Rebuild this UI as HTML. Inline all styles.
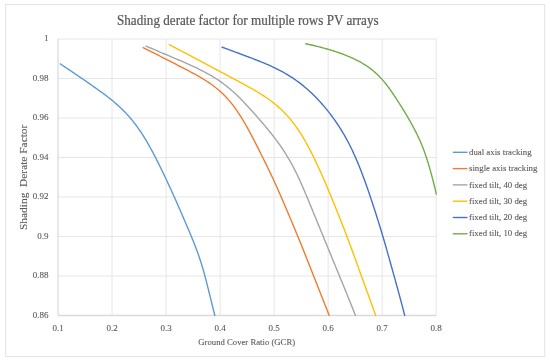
<!DOCTYPE html>
<html><head><meta charset="utf-8"><style>
html,body{margin:0;padding:0;background:#fff;}
svg{display:block;}
text{font-family:"Liberation Serif",serif;fill:#595959;stroke:#595959;stroke-width:0.1px;}
</style></head><body>
<svg width="550" height="362" viewBox="0 0 550 362">
<rect x="0" y="0" width="550" height="362" fill="#fff"/>
<rect x="5.7" y="4.5" width="539" height="352" fill="#fff" stroke="#e3e3e3" stroke-width="1"/>
<g stroke="#e6e6e6" stroke-width="1"><line x1="112.03" y1="39.0" x2="112.03" y2="315.43"/><line x1="166.06" y1="39.0" x2="166.06" y2="315.43"/><line x1="220.09" y1="39.0" x2="220.09" y2="315.43"/><line x1="274.12" y1="39.0" x2="274.12" y2="315.43"/><line x1="328.15" y1="39.0" x2="328.15" y2="315.43"/><line x1="382.18" y1="39.0" x2="382.18" y2="315.43"/><line x1="436.21" y1="39.0" x2="436.21" y2="315.43"/><line x1="58.0" y1="39.00" x2="436.21" y2="39.00"/><line x1="58.0" y1="78.49" x2="436.21" y2="78.49"/><line x1="58.0" y1="117.98" x2="436.21" y2="117.98"/><line x1="58.0" y1="157.47" x2="436.21" y2="157.47"/><line x1="58.0" y1="196.96" x2="436.21" y2="196.96"/><line x1="58.0" y1="236.45" x2="436.21" y2="236.45"/><line x1="58.0" y1="275.94" x2="436.21" y2="275.94"/></g>
<line x1="58.0" y1="39.0" x2="58.0" y2="315.43" stroke="#d2d2d2" stroke-width="1"/>
<line x1="58.0" y1="315.5" x2="436.21" y2="315.5" stroke="#dadada" stroke-width="1.3"/>
<g font-size="9"><text x="48.6" y="41.10" text-anchor="end">1</text><text x="48.6" y="80.59" text-anchor="end">0.98</text><text x="48.6" y="120.08" text-anchor="end">0.96</text><text x="48.6" y="159.57" text-anchor="end">0.94</text><text x="48.6" y="199.06" text-anchor="end">0.92</text><text x="48.6" y="238.55" text-anchor="end">0.9</text><text x="48.6" y="278.04" text-anchor="end">0.88</text><text x="48.6" y="317.53" text-anchor="end">0.86</text><text x="58.00" y="331" text-anchor="middle">0.1</text><text x="112.03" y="331" text-anchor="middle">0.2</text><text x="166.06" y="331" text-anchor="middle">0.3</text><text x="220.09" y="331" text-anchor="middle">0.4</text><text x="274.12" y="331" text-anchor="middle">0.5</text><text x="328.15" y="331" text-anchor="middle">0.6</text><text x="382.18" y="331" text-anchor="middle">0.7</text><text x="436.21" y="331" text-anchor="middle">0.8</text></g>
<g fill="none" stroke-width="1.4" stroke-linecap="round" stroke-linejoin="round"><path d="M60.30,63.90 L61.53,64.71 L62.75,65.53 L63.98,66.34 L65.20,67.16 L66.42,67.98 L67.64,68.80 L68.86,69.62 L70.08,70.44 L71.30,71.26 L72.52,72.09 L73.73,72.91 L74.95,73.74 L76.16,74.56 L77.37,75.39 L78.59,76.22 L79.80,77.05 L81.01,77.87 L82.22,78.71 L83.43,79.54 L84.64,80.37 L85.84,81.20 L87.05,82.03 L88.26,82.87 L89.46,83.70 L90.66,84.54 L91.87,85.38 L93.07,86.22 L94.26,87.06 L95.46,87.91 L96.65,88.75 L97.84,89.60 L99.03,90.46 L100.22,91.31 L101.39,92.17 L102.57,93.04 L103.74,93.90 L104.91,94.78 L106.07,95.66 L107.23,96.54 L108.38,97.43 L109.52,98.33 L110.65,99.24 L111.79,100.14 L112.90,101.07 L114.01,101.99 L115.13,102.92 L116.22,103.87 L117.30,104.83 L118.38,105.79 L119.45,106.76 L120.50,107.75 L121.55,108.74 L122.59,109.74 L123.61,110.76 L124.62,111.79 L125.63,112.82 L126.61,113.88 L127.58,114.95 L128.56,116.02 L129.51,117.10 L130.45,118.20 L131.38,119.31 L132.31,120.42 L133.21,121.56 L134.11,122.71 L135.00,123.85 L135.87,125.02 L136.74,126.20 L137.60,127.38 L138.45,128.57 L139.28,129.78 L140.11,130.99 L140.94,132.20 L141.74,133.44 L142.54,134.68 L143.34,135.92 L144.12,137.17 L144.90,138.44 L145.67,139.70 L146.44,140.98 L147.19,142.27 L147.94,143.56 L148.69,144.85 L149.42,146.16 L150.15,147.47 L150.88,148.77 L151.60,150.10 L152.31,151.43 L153.03,152.75 L153.73,154.09 L154.43,155.43 L155.13,156.77 L155.82,158.12 L156.51,159.47 L157.19,160.83 L157.88,162.18 L158.55,163.55 L159.23,164.91 L159.90,166.28 L160.57,167.65 L161.24,169.02 L161.91,170.39 L162.57,171.77 L163.23,173.15 L163.89,174.53 L164.56,175.91 L165.21,177.29 L165.87,178.68 L166.52,180.06 L167.17,181.45 L167.82,182.84 L168.47,184.23 L169.12,185.62 L169.76,187.02 L170.41,188.42 L171.05,189.81 L171.69,191.22 L172.32,192.62 L172.96,194.02 L173.60,195.43 L174.23,196.84 L174.86,198.25 L175.49,199.66 L176.12,201.07 L176.74,202.48 L177.37,203.90 L177.99,205.32 L178.61,206.74 L179.23,208.15 L179.85,209.57 L180.47,211.00 L181.09,212.42 L181.70,213.84 L182.32,215.27 L182.94,216.69 L183.55,218.12 L184.16,219.54 L184.78,220.97 L185.39,222.40 L186.00,223.82 L186.61,225.25 L187.23,226.68 L187.84,228.11 L188.44,229.55 L189.05,230.98 L189.66,232.41 L190.26,233.85 L190.86,235.29 L191.46,236.73 L192.05,238.18 L192.64,239.63 L193.24,241.08 L193.82,242.53 L194.40,244.00 L194.97,245.46 L195.55,246.93 L196.10,248.41 L196.66,249.89 L197.21,251.38 L197.75,252.88 L198.28,254.39 L198.82,255.90 L199.34,257.42 L199.84,258.95 L200.35,260.48 L200.85,262.02 L201.33,263.58 L201.82,265.14 L202.30,266.70 L202.76,268.28 L203.21,269.86 L203.67,271.44 L204.12,273.04 L204.55,274.64 L204.99,276.25 L205.42,277.85 L205.84,279.47 L206.26,281.09 L206.68,282.71 L207.09,284.34 L207.50,285.97 L207.91,287.60 L208.32,289.24 L208.73,290.87 L209.13,292.51 L209.54,294.14 L209.94,295.78 L210.35,297.41 L210.75,299.05 L211.15,300.68 L211.56,302.32 L211.96,303.96 L212.37,305.59 L212.77,307.23 L213.18,308.86 L213.58,310.50 L213.98,312.14 L214.39,313.77 L214.79,315.41" stroke="#5B9BD5"/><path d="M143.09,47.51 L144.60,48.28 L146.11,49.05 L147.62,49.82 L149.13,50.59 L150.64,51.37 L152.15,52.14 L153.66,52.91 L155.17,53.68 L156.68,54.46 L158.19,55.23 L159.70,56.00 L161.20,56.77 L162.71,57.54 L164.22,58.32 L165.73,59.09 L167.24,59.86 L168.75,60.63 L170.26,61.41 L171.77,62.18 L173.28,62.95 L174.79,63.72 L176.30,64.49 L177.81,65.27 L179.31,66.04 L180.82,66.81 L182.33,67.59 L183.83,68.36 L185.33,69.14 L186.84,69.92 L188.34,70.71 L189.83,71.50 L191.32,72.29 L192.81,73.08 L194.28,73.89 L195.75,74.70 L197.22,75.51 L198.67,76.34 L200.11,77.18 L201.56,78.02 L202.99,78.87 L204.39,79.75 L205.79,80.63 L207.20,81.50 L208.56,82.43 L209.91,83.35 L211.26,84.28 L212.59,85.24 L213.88,86.22 L215.18,87.21 L216.47,88.20 L217.70,89.25 L218.94,90.30 L220.17,91.34 L221.35,92.45 L222.52,93.56 L223.69,94.67 L224.82,95.82 L225.93,96.99 L227.04,98.16 L228.13,99.36 L229.17,100.59 L230.22,101.83 L231.27,103.06 L232.26,104.35 L233.25,105.64 L234.24,106.93 L235.20,108.25 L236.15,109.59 L237.09,110.93 L238.02,112.28 L238.92,113.66 L239.82,115.04 L240.72,116.42 L241.58,117.84 L242.45,119.26 L243.31,120.67 L244.16,122.11 L244.99,123.56 L245.83,125.00 L246.65,126.46 L247.46,127.93 L248.28,129.40 L249.09,130.87 L249.88,132.36 L250.67,133.85 L251.47,135.33 L252.25,136.83 L253.03,138.33 L253.81,139.83 L254.59,141.34 L255.36,142.85 L256.13,144.36 L256.90,145.87 L257.66,147.39 L258.43,148.90 L259.19,150.42 L259.96,151.94 L260.72,153.46 L261.48,154.98 L262.24,156.51 L262.99,158.03 L263.75,159.55 L264.50,161.08 L265.26,162.61 L266.01,164.14 L266.76,165.67 L267.51,167.20 L268.25,168.74 L269.00,170.27 L269.74,171.81 L270.48,173.36 L271.22,174.90 L271.95,176.45 L272.68,178.00 L273.40,179.56 L274.13,181.12 L274.84,182.68 L275.56,184.25 L276.27,185.82 L276.98,187.39 L277.68,188.97 L278.38,190.55 L279.08,192.13 L279.77,193.72 L280.47,195.31 L281.16,196.90 L281.85,198.49 L282.53,200.09 L283.22,201.68 L283.91,203.28 L284.59,204.87 L285.27,206.47 L285.96,208.07 L286.64,209.67 L287.32,211.27 L288.00,212.87 L288.67,214.48 L289.35,216.08 L290.03,217.69 L290.71,219.29 L291.38,220.90 L292.06,222.50 L292.73,224.11 L293.40,225.72 L294.07,227.33 L294.74,228.94 L295.41,230.55 L296.08,232.17 L296.75,233.78 L297.42,235.40 L298.08,237.01 L298.74,238.63 L299.41,240.25 L300.07,241.87 L300.73,243.49 L301.39,245.11 L302.04,246.74 L302.70,248.37 L303.35,249.99 L304.00,251.62 L304.65,253.25 L305.31,254.88 L305.95,256.51 L306.60,258.15 L307.25,259.78 L307.90,261.42 L308.54,263.05 L309.19,264.69 L309.84,266.32 L310.48,267.96 L311.13,269.59 L311.77,271.23 L312.42,272.87 L313.06,274.50 L313.71,276.14 L314.35,277.78 L315.00,279.41 L315.64,281.05 L316.29,282.68 L316.93,284.32 L317.58,285.96 L318.22,287.59 L318.87,289.23 L319.51,290.86 L320.16,292.50 L320.80,294.14 L321.45,295.77 L322.10,297.41 L322.74,299.05 L323.39,300.68 L324.03,302.32 L324.68,303.95 L325.32,305.59 L325.97,307.23 L326.61,308.86 L327.26,310.50 L327.90,312.13 L328.55,313.77 L329.19,315.41" stroke="#ED7D31"/><path d="M146.10,46.10 L147.78,46.82 L149.47,47.54 L151.16,48.25 L152.85,48.97 L154.54,49.69 L156.23,50.40 L157.91,51.12 L159.60,51.84 L161.29,52.55 L162.98,53.27 L164.67,53.99 L166.36,54.71 L168.04,55.42 L169.73,56.14 L171.42,56.86 L173.10,57.58 L174.79,58.30 L176.47,59.02 L178.15,59.74 L179.84,60.47 L181.51,61.20 L183.18,61.93 L184.86,62.66 L186.52,63.40 L188.18,64.14 L189.84,64.89 L191.49,65.64 L193.14,66.40 L194.78,67.17 L196.41,67.94 L198.03,68.73 L199.64,69.52 L201.26,70.31 L202.85,71.13 L204.43,71.95 L206.01,72.77 L207.57,73.62 L209.10,74.49 L210.64,75.35 L212.17,76.23 L213.66,77.15 L215.14,78.07 L216.63,78.99 L218.07,79.95 L219.50,80.93 L220.93,81.90 L222.33,82.91 L223.70,83.94 L225.08,84.97 L226.44,86.01 L227.76,87.10 L229.08,88.18 L230.40,89.27 L231.67,90.40 L232.94,91.53 L234.22,92.67 L235.46,93.83 L236.69,95.00 L237.92,96.18 L239.14,97.36 L240.33,98.57 L241.53,99.78 L242.73,100.99 L243.90,102.23 L245.07,103.46 L246.24,104.70 L247.39,105.94 L248.54,107.20 L249.69,108.45 L250.84,109.71 L251.98,110.98 L253.11,112.25 L254.25,113.52 L255.37,114.80 L256.50,116.08 L257.63,117.36 L258.74,118.64 L259.86,119.93 L260.98,121.22 L262.09,122.52 L263.19,123.82 L264.29,125.12 L265.39,126.42 L266.48,127.74 L267.57,129.06 L268.66,130.37 L269.73,131.71 L270.80,133.04 L271.87,134.38 L272.93,135.72 L273.97,137.08 L275.02,138.44 L276.06,139.81 L277.08,141.20 L278.09,142.58 L279.11,143.97 L280.10,145.39 L281.09,146.81 L282.07,148.23 L283.04,149.67 L283.98,151.12 L284.93,152.58 L285.87,154.04 L286.78,155.54 L287.69,157.04 L288.60,158.53 L289.47,160.06 L290.34,161.60 L291.21,163.14 L292.06,164.69 L292.89,166.27 L293.72,167.84 L294.55,169.42 L295.34,171.03 L296.14,172.64 L296.94,174.25 L297.71,175.88 L298.47,177.52 L299.24,179.16 L299.99,180.81 L300.73,182.47 L301.48,184.14 L302.22,185.80 L302.94,187.48 L303.66,189.16 L304.39,190.84 L305.10,192.54 L305.82,194.23 L306.53,195.92 L307.24,197.62 L307.94,199.32 L308.65,201.02 L309.35,202.72 L310.05,204.42 L310.75,206.12 L311.46,207.83 L312.16,209.53 L312.86,211.24 L313.56,212.94 L314.26,214.64 L314.96,216.35 L315.66,218.05 L316.36,219.76 L317.06,221.46 L317.76,223.17 L318.46,224.87 L319.16,226.57 L319.87,228.28 L320.57,229.98 L321.27,231.69 L321.97,233.39 L322.67,235.09 L323.37,236.80 L324.07,238.50 L324.77,240.21 L325.47,241.91 L326.17,243.62 L326.87,245.32 L327.57,247.02 L328.28,248.73 L328.98,250.43 L329.68,252.14 L330.38,253.84 L331.08,255.55 L331.78,257.25 L332.48,258.95 L333.18,260.66 L333.88,262.36 L334.58,264.07 L335.28,265.77 L335.98,267.48 L336.68,269.18 L337.39,270.88 L338.09,272.59 L338.79,274.29 L339.49,276.00 L340.19,277.70 L340.89,279.40 L341.59,281.11 L342.29,282.81 L342.99,284.52 L343.69,286.22 L344.39,287.93 L345.09,289.64 L345.79,291.34 L346.48,293.05 L347.18,294.76 L347.87,296.47 L348.56,298.19 L349.25,299.90 L349.94,301.62 L350.63,303.33 L351.32,305.05 L352.00,306.77 L352.69,308.49 L353.37,310.22 L354.05,311.94 L354.72,313.67 L355.40,315.40" stroke="#A5A5A5"/><path d="M169.30,44.60 L170.86,45.44 L172.43,46.27 L174.00,47.10 L175.57,47.93 L177.13,48.76 L178.70,49.59 L180.27,50.42 L181.83,51.25 L183.40,52.08 L184.97,52.91 L186.54,53.74 L188.10,54.57 L189.67,55.40 L191.24,56.23 L192.81,57.06 L194.37,57.89 L195.94,58.72 L197.51,59.55 L199.08,60.39 L200.64,61.22 L202.21,62.05 L203.78,62.88 L205.34,63.71 L206.91,64.54 L208.48,65.37 L210.04,66.21 L211.61,67.04 L213.17,67.87 L214.74,68.70 L216.30,69.54 L217.87,70.37 L219.43,71.21 L220.99,72.04 L222.56,72.87 L224.12,73.71 L225.69,74.54 L227.25,75.37 L228.82,76.21 L230.38,77.04 L231.94,77.87 L233.51,78.71 L235.07,79.54 L236.64,80.38 L238.20,81.21 L239.76,82.05 L241.32,82.89 L242.88,83.73 L244.43,84.57 L245.98,85.42 L247.53,86.27 L249.07,87.13 L250.61,87.99 L252.15,88.85 L253.66,89.73 L255.17,90.62 L256.69,91.50 L258.18,92.40 L259.66,93.32 L261.15,94.24 L262.62,95.16 L264.06,96.12 L265.50,97.08 L266.94,98.03 L268.34,99.04 L269.73,100.04 L271.12,101.04 L272.48,102.08 L273.82,103.14 L275.16,104.20 L276.48,105.28 L277.76,106.40 L279.04,107.52 L280.31,108.64 L281.53,109.82 L282.75,111.00 L283.97,112.18 L285.14,113.41 L286.29,114.65 L287.45,115.89 L288.58,117.16 L289.67,118.47 L290.77,119.77 L291.86,121.08 L292.89,122.44 L293.93,123.80 L294.97,125.16 L295.96,126.56 L296.95,127.98 L297.93,129.39 L298.90,130.82 L299.84,132.28 L300.78,133.74 L301.71,135.20 L302.61,136.70 L303.51,138.20 L304.40,139.70 L305.27,141.23 L306.13,142.77 L307.00,144.30 L307.84,145.85 L308.68,147.42 L309.51,148.99 L310.33,150.56 L311.14,152.15 L311.95,153.74 L312.75,155.34 L313.54,156.95 L314.32,158.56 L315.11,160.18 L315.88,161.80 L316.65,163.43 L317.41,165.06 L318.17,166.70 L318.92,168.35 L319.68,169.99 L320.43,171.64 L321.17,173.30 L321.90,174.96 L322.64,176.62 L323.37,178.29 L324.10,179.96 L324.83,181.63 L325.55,183.30 L326.27,184.98 L326.98,186.67 L327.70,188.35 L328.41,190.04 L329.11,191.73 L329.82,193.42 L330.52,195.12 L331.22,196.82 L331.92,198.52 L332.62,200.22 L333.31,201.92 L334.00,203.63 L334.69,205.33 L335.38,207.04 L336.07,208.75 L336.76,210.46 L337.44,212.17 L338.13,213.89 L338.81,215.60 L339.49,217.32 L340.17,219.04 L340.85,220.75 L341.53,222.47 L342.21,224.20 L342.88,225.92 L343.56,227.64 L344.23,229.37 L344.89,231.10 L345.56,232.83 L346.23,234.57 L346.89,236.30 L347.55,238.04 L348.21,239.78 L348.86,241.52 L349.51,243.27 L350.17,245.01 L350.81,246.77 L351.46,248.52 L352.10,250.27 L352.75,252.03 L353.39,253.78 L354.03,255.54 L354.67,257.30 L355.30,259.06 L355.94,260.82 L356.58,262.58 L357.22,264.34 L357.85,266.10 L358.49,267.87 L359.13,269.63 L359.76,271.39 L360.40,273.15 L361.04,274.91 L361.67,276.67 L362.31,278.43 L362.95,280.19 L363.58,281.96 L364.22,283.72 L364.86,285.48 L365.49,287.24 L366.13,289.00 L366.77,290.76 L367.40,292.52 L368.04,294.28 L368.68,296.04 L369.31,297.81 L369.95,299.57 L370.59,301.33 L371.22,303.09 L371.86,304.85 L372.50,306.61 L373.14,308.37 L373.77,310.13 L374.41,311.90 L375.05,313.66 L375.68,315.42" stroke="#FFC000"/><path d="M222.09,47.11 L223.74,47.72 L225.39,48.34 L227.04,48.95 L228.69,49.57 L230.34,50.19 L231.99,50.80 L233.64,51.42 L235.29,52.04 L236.94,52.65 L238.59,53.27 L240.24,53.89 L241.89,54.50 L243.54,55.12 L245.18,55.74 L246.83,56.36 L248.48,56.98 L250.12,57.60 L251.76,58.22 L253.40,58.85 L255.04,59.48 L256.67,60.12 L258.29,60.76 L259.92,61.39 L261.53,62.05 L263.14,62.71 L264.74,63.37 L266.33,64.04 L267.91,64.73 L269.49,65.42 L271.06,66.12 L272.60,66.84 L274.14,67.57 L275.68,68.29 L277.18,69.05 L278.68,69.82 L280.18,70.59 L281.66,71.38 L283.11,72.19 L284.57,73.00 L286.01,73.82 L287.42,74.68 L288.83,75.54 L290.23,76.40 L291.60,77.30 L292.96,78.20 L294.32,79.10 L295.66,80.03 L296.97,80.98 L298.29,81.94 L299.59,82.90 L300.86,83.89 L302.14,84.89 L303.41,85.88 L304.63,86.92 L305.86,87.96 L307.09,89.00 L308.29,90.06 L309.47,91.15 L310.66,92.23 L311.83,93.32 L312.97,94.44 L314.12,95.57 L315.26,96.69 L316.37,97.85 L317.47,99.00 L318.58,100.16 L319.66,101.35 L320.74,102.54 L321.81,103.73 L322.87,104.94 L323.91,106.17 L324.95,107.39 L325.99,108.62 L326.99,109.88 L328.00,111.14 L329.01,112.40 L329.99,113.68 L330.97,114.97 L331.94,116.26 L332.90,117.56 L333.85,118.88 L334.79,120.21 L335.73,121.53 L336.64,122.89 L337.55,124.24 L338.46,125.60 L339.35,126.98 L340.23,128.37 L341.11,129.75 L341.97,131.16 L342.81,132.58 L343.66,134.00 L344.50,135.43 L345.31,136.88 L346.12,138.34 L346.93,139.79 L347.71,141.27 L348.49,142.76 L349.27,144.25 L350.03,145.76 L350.77,147.27 L351.52,148.79 L352.26,150.32 L352.98,151.87 L353.69,153.42 L354.41,154.97 L355.10,156.54 L355.79,158.12 L356.48,159.70 L357.16,161.29 L357.82,162.89 L358.49,164.49 L359.15,166.09 L359.79,167.72 L360.43,169.34 L361.08,170.96 L361.70,172.60 L362.33,174.24 L362.95,175.88 L363.57,177.53 L364.18,179.19 L364.78,180.85 L365.39,182.51 L365.98,184.18 L366.58,185.85 L367.17,187.52 L367.75,189.21 L368.33,190.89 L368.92,192.58 L369.49,194.27 L370.06,195.96 L370.63,197.66 L371.20,199.35 L371.76,201.06 L372.33,202.76 L372.89,204.46 L373.45,206.17 L374.00,207.88 L374.56,209.59 L375.11,211.31 L375.66,213.02 L376.21,214.74 L376.76,216.46 L377.30,218.18 L377.84,219.90 L378.39,221.62 L378.92,223.35 L379.46,225.08 L379.99,226.81 L380.52,228.55 L381.05,230.29 L381.58,232.03 L382.10,233.77 L382.62,235.52 L383.14,237.27 L383.65,239.02 L384.16,240.77 L384.67,242.53 L385.18,244.28 L385.69,246.05 L386.19,247.81 L386.69,249.57 L387.19,251.34 L387.69,253.10 L388.19,254.87 L388.69,256.64 L389.19,258.41 L389.68,260.18 L390.18,261.95 L390.67,263.72 L391.17,265.49 L391.66,267.26 L392.16,269.03 L392.65,270.80 L393.15,272.57 L393.64,274.35 L394.13,276.12 L394.63,277.89 L395.12,279.67 L395.61,281.44 L396.10,283.21 L396.59,284.99 L397.08,286.77 L397.57,288.54 L398.06,290.32 L398.54,292.10 L399.03,293.88 L399.51,295.67 L399.99,297.45 L400.47,299.24 L400.95,301.02 L401.43,302.81 L401.90,304.61 L402.37,306.40 L402.84,308.20 L403.31,309.99 L403.77,311.79 L404.24,313.60 L404.70,315.40" stroke="#4472C4"/><path d="M305.70,43.70 L306.86,43.95 L308.02,44.20 L309.18,44.46 L310.33,44.72 L311.48,44.98 L312.63,45.24 L313.77,45.51 L314.90,45.79 L316.04,46.06 L317.17,46.34 L318.30,46.63 L319.42,46.92 L320.54,47.21 L321.66,47.50 L322.77,47.81 L323.88,48.11 L324.98,48.41 L326.08,48.73 L327.18,49.04 L328.28,49.36 L329.36,49.68 L330.44,50.01 L331.53,50.34 L332.60,50.68 L333.67,51.02 L334.74,51.36 L335.80,51.71 L336.86,52.06 L337.91,52.42 L338.97,52.78 L340.01,53.15 L341.04,53.53 L342.08,53.90 L343.11,54.28 L344.13,54.67 L345.15,55.06 L346.16,55.46 L347.17,55.87 L348.17,56.28 L349.17,56.69 L350.15,57.12 L351.13,57.55 L352.12,57.98 L353.08,58.43 L354.04,58.88 L355.00,59.33 L355.95,59.79 L356.88,60.27 L357.82,60.75 L358.75,61.23 L359.66,61.73 L360.57,62.23 L361.48,62.73 L362.37,63.26 L363.25,63.79 L364.13,64.32 L365.00,64.86 L365.85,65.42 L366.70,65.98 L367.55,66.54 L368.37,67.13 L369.20,67.72 L370.02,68.31 L370.81,68.92 L371.61,69.54 L372.40,70.16 L373.18,70.80 L373.94,71.45 L374.70,72.09 L375.46,72.75 L376.19,73.43 L376.92,74.11 L377.66,74.79 L378.36,75.50 L379.06,76.20 L379.77,76.91 L380.45,77.64 L381.13,78.37 L381.81,79.10 L382.47,79.85 L383.13,80.61 L383.78,81.37 L384.43,82.13 L385.06,82.92 L385.68,83.70 L386.31,84.48 L386.92,85.28 L387.53,86.08 L388.14,86.89 L388.74,87.70 L389.33,88.52 L389.92,89.34 L390.51,90.16 L391.09,90.99 L391.67,91.83 L392.25,92.66 L392.82,93.50 L393.39,94.34 L393.96,95.19 L394.52,96.03 L395.08,96.89 L395.64,97.74 L396.20,98.59 L396.76,99.44 L397.31,100.30 L397.87,101.16 L398.42,102.02 L398.97,102.88 L399.52,103.74 L400.06,104.61 L400.61,105.47 L401.15,106.34 L401.70,107.21 L402.24,108.08 L402.78,108.95 L403.32,109.82 L403.85,110.70 L404.39,111.57 L404.92,112.45 L405.45,113.33 L405.98,114.22 L406.51,115.10 L407.04,115.98 L407.56,116.87 L408.08,117.76 L408.60,118.66 L409.12,119.55 L409.63,120.45 L410.14,121.35 L410.65,122.25 L411.16,123.16 L411.66,124.07 L412.16,124.98 L412.66,125.89 L413.15,126.81 L413.65,127.72 L414.13,128.65 L414.62,129.58 L415.10,130.51 L415.58,131.44 L416.05,132.38 L416.52,133.32 L416.98,134.27 L417.44,135.22 L417.90,136.18 L418.36,137.13 L418.80,138.10 L419.24,139.07 L419.69,140.04 L420.12,141.02 L420.54,142.00 L420.97,142.99 L421.39,143.98 L421.80,144.98 L422.21,145.99 L422.61,146.99 L423.00,148.01 L423.40,149.03 L423.79,150.05 L424.17,151.08 L424.54,152.12 L424.92,153.16 L425.28,154.20 L425.64,155.25 L426.00,156.31 L426.36,157.36 L426.70,158.43 L427.05,159.50 L427.39,160.56 L427.72,161.64 L428.06,162.72 L428.39,163.80 L428.71,164.89 L429.03,165.98 L429.35,167.07 L429.67,168.16 L429.98,169.26 L430.30,170.36 L430.61,171.46 L430.91,172.57 L431.21,173.68 L431.52,174.79 L431.82,175.90 L432.11,177.02 L432.41,178.13 L432.70,179.25 L432.99,180.38 L433.27,181.50 L433.56,182.62 L433.84,183.75 L434.12,184.88 L434.40,186.02 L434.68,187.15 L434.95,188.29 L435.23,189.43 L435.50,190.57 L435.77,191.71 L436.03,192.86 L436.30,194.00" stroke="#70AD47"/></g>
<text transform="translate(117.0,25.4) scale(1,1.07)" font-size="13.13" style="stroke-width:0.22px">Shading derate factor for multiple rows PV arrays</text>
<text x="246.7" y="345.3" font-size="8.7" text-anchor="middle">Ground Cover Ratio (GCR)</text>
<text transform="translate(27.2,177.3) rotate(-90)" font-size="11.4" text-anchor="middle" xml:space="preserve">Shading  Derate Factor</text>
<g font-size="8.8"><line x1="452.8" y1="152.30" x2="467.5" y2="152.30" stroke="#5B9BD5" stroke-width="1.4"/><text x="469" y="154.90">dual axis tracking</text><line x1="452.8" y1="168.60" x2="467.5" y2="168.60" stroke="#ED7D31" stroke-width="1.4"/><text x="469" y="171.20">single axis tracking</text><line x1="452.8" y1="184.90" x2="467.5" y2="184.90" stroke="#A5A5A5" stroke-width="1.4"/><text x="469" y="187.50">fixed tilt, 40 deg</text><line x1="452.8" y1="201.20" x2="467.5" y2="201.20" stroke="#FFC000" stroke-width="1.4"/><text x="469" y="203.80">fixed tilt, 30 deg</text><line x1="452.8" y1="217.50" x2="467.5" y2="217.50" stroke="#4472C4" stroke-width="1.4"/><text x="469" y="220.10">fixed tilt, 20 deg</text><line x1="452.8" y1="233.80" x2="467.5" y2="233.80" stroke="#70AD47" stroke-width="1.4"/><text x="469" y="236.40">fixed tilt, 10 deg</text></g>
</svg>
</body></html>
